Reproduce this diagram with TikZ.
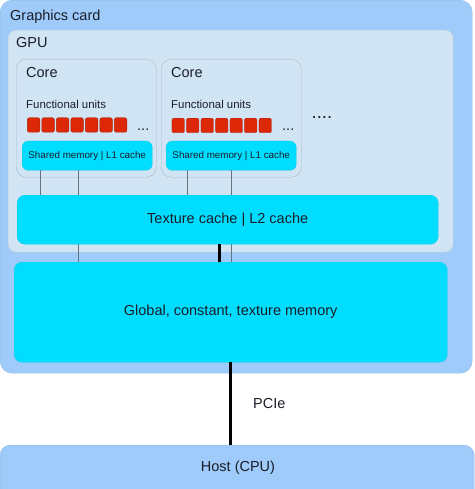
\documentclass[tikz,border=0pt]{standalone}
\usepackage{fontspec}
\setmainfont{Liberation Sans}
\usepackage{tikz}
\usetikzlibrary{positioning}

\definecolor{cardblue}{RGB}{158,203,250}
\definecolor{gpublue}{RGB}{209,228,244}
\definecolor{cacheblue}{RGB}{0,221,255}
\definecolor{fured}{RGB}{221,40,8}
\definecolor{coregray}{RGB}{168,182,196}
\definecolor{linkgray}{RGB}{100,116,130}
\definecolor{inkdark}{RGB}{26,30,40}

\tikzset{
  box/.style={rectangle, anchor=north west, inner sep=0pt, text=inkdark},
  cardbox/.style={box, fill=cardblue, draw=cardblue!92!black, rounded corners=12pt},
  gpubox/.style={box, fill=gpublue, draw=coregray!70, rounded corners=8pt},
  corebox/.style={box, fill=gpublue, draw=coregray, rounded corners=10pt},
  cachebox/.style={box, fill=cacheblue, draw=cacheblue!92!black, rounded corners=7pt,
    font=\fontsize{14.5}{17}\selectfont},
  smbox/.style={cachebox, minimum width=130pt, minimum height=29pt, rounded corners=6pt,
    font=\fontsize{9.8}{12}\selectfont},
  fu/.style={rectangle, fill=fured, draw=fured!80!black, rounded corners=2pt,
    minimum width=12.5pt, minimum height=14.5pt, inner sep=0pt},
  title/.style={anchor=base west, inner sep=0pt, text=inkdark, font=\fontsize{14.5}{17}\selectfont},
  small/.style={title, font=\fontsize{11.4}{14}\selectfont},
  link/.style={draw=linkgray, line width=0.8pt},
  bus/.style={draw=black, line width=3pt},
}

\begin{document}
\begin{tikzpicture}[x=1pt, y=-1pt]
    \useasboundingbox (0,0) rectangle (474,489);

    % graphics card and gpu
    \node[cardbox, minimum width=472pt, minimum height=373pt] (card) at (0,0) {};
    \node[title] (cardname) at (10,21) {Graphics card};
    \node[gpubox, minimum width=445pt, minimum height=222pt] (gpu) at (8,30) {};
    \node[title] (gpuname) at (16,48) {GPU};

    % the two cores
    \node[corebox, minimum width=140pt, minimum height=118pt] (core1) at (16,59) {};
    \node[corebox, minimum width=140pt, minimum height=118pt] (core2) at (161,59) {};
    \node[title] (corename1) at (26,78) {Core};
    \node[title] (corename2) at (171,78) {Core};
    \node[small] (fulabel1) at (26,109) {Functional units};
    \node[small] (fulabel2) at (171,109) {Functional units};
    \foreach \i in {0,...,6} {
        \node[fu] (fa\i) at (33.6+14.5*\i,125) {};
        \node[fu] (fb\i) at (178.2+14.5*\i,125.5) {};
    }
    \node[title] (dots1) at (137,131) {...};
    \node[title] (dots2) at (282,131) {...};
    \node[title, font=\fontsize{18.5}{20}\selectfont] (moredots) at (311.5,119) {....};
    \node[smbox] (sm1) at (22,141) {Shared memory | L1 cache};
    \node[smbox] (sm2) at (166,141) {Shared memory | L1 cache};

    % thin links down to the caches
    \coordinate (a1) at (40.7,195);
    \coordinate (a2) at (78.7,262);
    \coordinate (a3) at (187.7,195);
    \coordinate (a4) at (231.7,262);
    \draw[link] (sm1.south -| a1) -- (a1);
    \draw[link] (sm1.south -| a2) -- (a2);
    \draw[link] (sm2.south -| a3) -- (a3);
    \draw[link] (sm2.south -| a4) -- (a4);

    % caches and memory
    \node[cachebox, minimum width=421pt, minimum height=49pt, rounded corners=8pt] (tex) at (17,195) {Texture cache | L2 cache};
    \node[cachebox, minimum width=433pt, minimum height=100pt, rounded corners=8pt] (glob) at (14,262) {Global, constant, texture memory};
    \coordinate (k) at (219.5,0);
    \draw[bus] (tex.south -| k) -- (glob.north -| k);

    % host
    \node[cardbox, minimum width=474pt, minimum height=60pt, rounded corners=10pt] (host) at (0,445) {};
    \node[title, anchor=center] (hostname) at (238,467.5) {Host (CPU)};
    \draw[bus] (glob.south) -- (glob.south |- host.north)
        node[midway, right=21pt, inner sep=0pt, text=inkdark, font=\fontsize{14.5}{17}\selectfont] (pcie) {PCIe};
\end{tikzpicture}
\end{document}
